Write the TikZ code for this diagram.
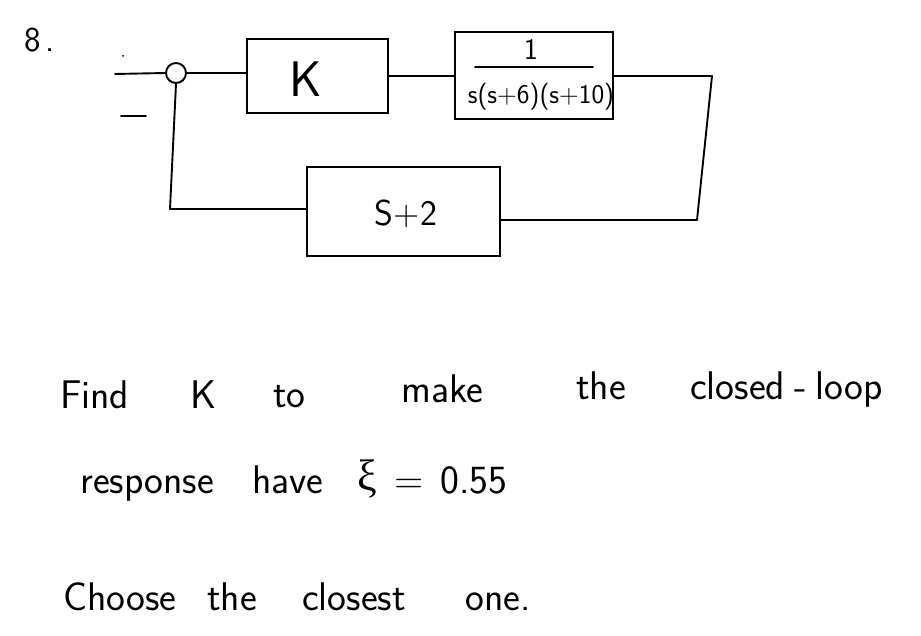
\documentclass[tikz,border=0pt]{standalone}
\usepackage{fontspec}
\newfontfamily\greekfont{Liberation Serif}
\begin{document}
\begin{tikzpicture}[x=1pt,y=-1pt,
  wire/.style={line width=1.9pt,line cap=round,line join=round},
  blockbox/.style={draw,line width=1.9pt,inner sep=0pt},
  sumcirc/.style={draw,circle,line width=1.9pt,minimum size=20pt,inner sep=0pt},
  body/.style={inner sep=0pt,anchor=base west,font=\sffamily\fontsize{40}{40}\selectfont},
  lbl/.style={inner sep=0pt,font=\sffamily\fontsize{#1}{#1}\selectfont}
]
\path[use as bounding box,fill=white] (0,0) rectangle (921,636);

% problem number
\node[body,font=\sffamily\fontsize{35}{35}\selectfont] (num8) at (24,52) {8\hspace{5pt}.};
\fill (123,56) circle (1pt);

% blocks
\node[sumcirc] (sum) at (176,73) {};
\node[blockbox,minimum width=141pt,minimum height=74pt] (K) at (317.5,76) {};
\node[lbl=50] (Ktext) at (306,79) {K};
\node[blockbox,minimum width=158pt,minimum height=87pt] (G) at (534,75.5) {};
\node[lbl=30] (Gnum) at (531,49) {1};
\coordinate (barL) at (475,67);
\coordinate (barR) at (593,67);
\draw[wire] (barL) -- (barR);
\node[lbl=27] (Gden) at (541,97) {s(s+6)(s+10)};
\node[blockbox,minimum width=193pt,minimum height=89pt] (H) at (403.5,211.5) {};
\node[lbl=36] (Htext) at (406,214) {S+2};

% signs
\coordinate (m1) at (121,116);
\coordinate (m2) at (146,116);
\draw[wire] (m1) -- (m2);

% connectors
\coordinate (in) at (115,74);
\coordinate (c1) at (712,76);
\coordinate (c2) at (697,220);
\coordinate (c3) at (170,209);
\draw[wire] (in) -- (sum.west);
\draw[wire] (sum.east) -- (sum.east -| K.west);
\draw[wire] (K.east) -- (K.east -| G.west);
\draw[wire] (G.east |- c1) -- (c1) -- (c2) -- (c2 -| H.east);
\draw[wire] (H.west |- c3) -- (c3) -- (sum.south);

% text
\node[body] (w1) at (60,408) {Find};
\node[body] (w2) at (190,408) {K};
\node[body] (w3) at (273,407) {to};
\node[body] (w4) at (401,402) {make};
\node[body] (w5) at (576,399) {the};
\node[body] (w6) at (690,399) {closed\hspace{9pt}-\hspace{9pt}loop};

\node[body] (w7) at (80,493) {response};
\node[body] (w8) at (252,493) {have};
\node[body,font=\greekfont\fontsize{44}{44}\selectfont] (w9) at (357,490) {ξ};
\node[body] (w10) at (394,493) {=};
\node[body] (w11) at (440,493) {0.55};

\node[body] (w12) at (63,610) {Choose};
\node[body] (w13) at (207,610) {the};
\node[body] (w14) at (302,610) {closest};
\node[body] (w15) at (465,610) {one.};
\end{tikzpicture}
\end{document}
